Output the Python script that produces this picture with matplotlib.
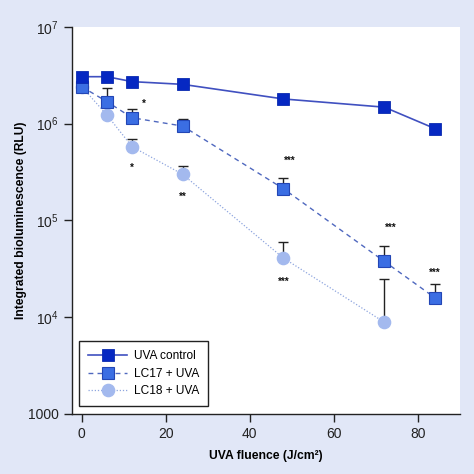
import matplotlib
matplotlib.use("Agg")
import matplotlib.pyplot as plt
from matplotlib.ticker import FixedLocator, FuncFormatter, NullLocator
import numpy as np

plt.rcParams['font.family'] = ['Liberation Sans', 'DejaVu Sans']
plt.rcParams['mathtext.fontset'] = 'custom'
plt.rcParams['mathtext.rm'] = 'Liberation Sans'
plt.rcParams['mathtext.it'] = 'Liberation Sans:italic'

# Data
fluence_ctrl = [0, 6, 12, 24, 48, 72, 84]
ctrl_vals = [3.06e6, 3.06e6, 2.72e6, 2.55e6, 1.80e6, 1.48e6, 8.9e5]

fluence_lc17 = [0, 6, 12, 24, 48, 72, 84]
lc17_vals = [2.41e6, 1.69e6, 1.15e6, 9.44e5, 2.12e5, 3.75e4, 1.58e4]
lc17_upper = [2.41e6, 2.36e6, 1.41e6, 1.11e6, 2.75e5, 5.37e4, 2.17e4]

fluence_lc18 = [0, 6, 12, 24, 48, 72]
lc18_vals = [2.41e6, 1.23e6, 5.77e5, 2.99e5, 4.06e4, 8.8e3]
lc18_upper = [2.41e6, 1.23e6, 6.87e5, 3.66e5, 5.9e4, 2.48e4]

sig_x = [14.8, 12, 24, 49.6, 73.6, 48, 84]
sig_y = [1.62e6, 3.5e5, 1.75e5, 4.15e5, 8.4e4, 2.3e4, 2.85e4]
sig_text = ['*', '*', '**', '***', '***', '***', '***']

labels = ['UVA control', 'LC17 + UVA', 'LC18 + UVA']
xticks = [0, 20, 40, 60, 80]
yticks = [1e3, 1e4, 1e5, 1e6, 1e7]

bg = '#e1e7f7'
fig = plt.figure(figsize=(4.74, 4.74), dpi=100, facecolor=bg)
ax = fig.add_axes([72/474, 1 - 413.5/474, 388/474, 386.5/474])
ax.set_facecolor('white')

ax.set_yscale('log')
ax.set_ylim(1e3, 1e7)
ax.set_xlim(-2.3, 90)

# error bars
ax.errorbar(fluence_lc17, lc17_vals,
            yerr=[np.zeros(len(lc17_vals)), np.array(lc17_upper) - np.array(lc17_vals)],
            fmt='none', ecolor='#222222', elinewidth=1.0, capsize=3.5, capthick=1.0, zorder=2)
ax.errorbar(fluence_lc18, lc18_vals,
            yerr=[np.zeros(len(lc18_vals)), np.array(lc18_upper) - np.array(lc18_vals)],
            fmt='none', ecolor='#222222', elinewidth=1.0, capsize=3.5, capthick=1.0, zorder=2)

ax.plot(fluence_lc18, lc18_vals, linestyle=(0, (1, 1.5)), color='#8fa6df', lw=0.9,
        marker='o', ms=8.8, mfc='#a3b9ee', mec='#a3b9ee', label=labels[2], zorder=3)
ax.plot(fluence_lc17, lc17_vals, linestyle=(0, (3.5, 3)), color='#4f68bf', lw=1.0,
        marker='s', ms=9.3, mfc='#3b6ee3', mec='#2346b5', mew=0.8, label=labels[1], zorder=4)
ax.plot(fluence_ctrl, ctrl_vals, linestyle='-', color='#4050c0', lw=1.2,
        marker='s', ms=9.0, mfc='#0628c2', mec='#0a2ab0', mew=0.6, label=labels[0], zorder=5)

for x, y, t in zip(sig_x, sig_y, sig_text):
    ax.text(x, y, t, ha='center', va='center', fontsize=7, fontweight='bold', color='#111111')

ax.xaxis.set_major_locator(FixedLocator(xticks))
ax.yaxis.set_major_locator(FixedLocator(yticks))
ax.yaxis.set_minor_locator(NullLocator())

def yfmt(v, pos):
    e = int(round(np.log10(v)))
    if e == 3:
        return '1000'
    return r'$10^{%d}$' % e

ax.yaxis.set_major_formatter(FuncFormatter(yfmt))
ax.tick_params(axis='both', direction='out', length=6, width=1, labelsize=10, colors='#222222')
for s in ['top', 'right']:
    ax.spines[s].set_visible(False)
for s in ['left', 'bottom']:
    ax.spines[s].set_color('#222222')
    ax.spines[s].set_linewidth(1.0)

ax.set_xlabel('UVA fluence (J/cm²)', fontsize=8.7, fontweight='bold', labelpad=7)
ax.set_ylabel('Integrated bioluminescence (RLU)', fontsize=8.7, fontweight='bold', labelpad=1)

h, l = ax.get_legend_handles_labels()
order = [2, 1, 0]
leg = ax.legend([h[i] for i in order], [l[i] for i in order], loc='lower left',
                bbox_to_anchor=(0.018, 0.019), borderaxespad=0, fontsize=8.6, frameon=True,
                fancybox=False, edgecolor='#222222', framealpha=1, handlelength=3.3,
                handletextpad=0.55, borderpad=0.75, labelspacing=0.45)
leg.get_frame().set_linewidth(1.0)

fig.savefig('out.png', dpi=100, facecolor=bg)
